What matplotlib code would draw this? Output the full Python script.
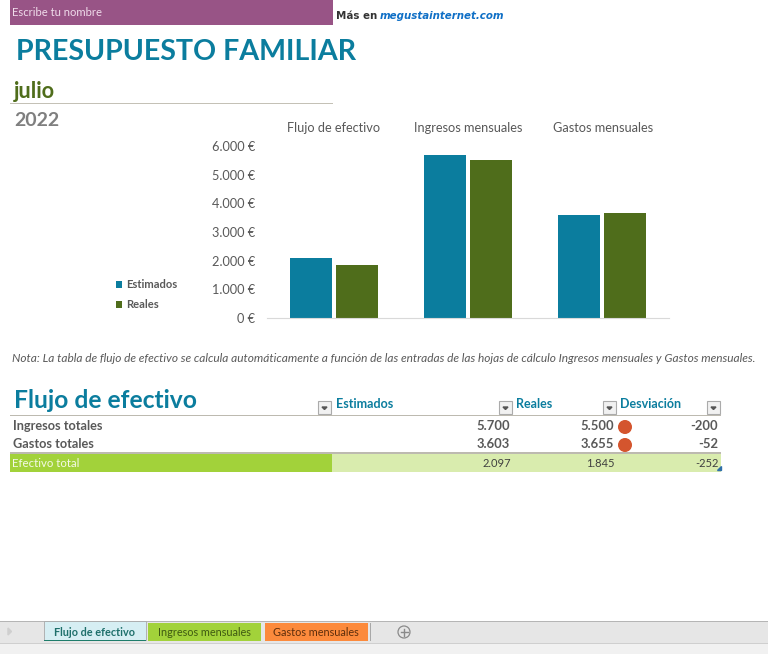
import numpy as np
import matplotlib
matplotlib.use("Agg")
import matplotlib.pyplot as plt
from matplotlib.patches import Rectangle, Circle

categories = ["Flujo de efectivo", "Ingresos mensuales", "Gastos mensuales"]
estimados = [2097, 5700, 3603]
reales = [1845, 5500, 3655]
y_ticks = [0, 1000, 2000, 3000, 4000, 5000, 6000]
y_labels = ["0 €", "1.000 €", "2.000 €", "3.000 €", "4.000 €", "5.000 €", "6.000 €"]
table_rows = ["Ingresos totales", "Gastos totales"]
table_est = ["5.700", "3.603"]
table_real = ["5.500", "3.655"]
table_desv = ["-200", "-52"]
total_row = ["Efectivo total", "2.097", "1.845", "-252"]
table_headers = ["Estimados", "Reales", "Desviación"]
sheet_tabs = ["Flujo de efectivo", "Ingresos mensuales", "Gastos mensuales"]

TEAL = "#0B7D9E"
GREEN = "#4F6D1B"
GREY = "#595959"
W, H = 768, 654

plt.rcParams["font.family"] = ["Lato", "DejaVu Sans"]
fig = plt.figure(figsize=(W / 100, H / 100), dpi=100)

# background axes in pixel coordinates for the sheet stuff
bg = fig.add_axes([0, 0, 1, 1])
bg.set_xlim(0, W)
bg.set_ylim(H, 0)
bg.axis("off")


def box(x0, y0, x1, y1, color, z=1):
    bg.add_patch(Rectangle((x0, y0), x1 - x0, y1 - y0, color=color, lw=0, zorder=z))


def txt(x, y, s, size, color, weight="normal", ha="left", **kw):
    bg.text(x, y, s, fontsize=size, color=color, fontweight=weight, ha=ha, va="center", **kw)


def filter_btn(x, y):
    bg.add_patch(Rectangle((x, y), 13, 13, fc="#F1F1F1", ec="#ABABAB", lw=0.8, zorder=3))
    bg.fill([x + 4, x + 9, x + 6.5], [y + 6, y + 6, y + 8.5], color="#555555", zorder=4)


# header
box(10, 0, 333, 25, "#985486")
txt(12, 12.5, "Escribe tu nombre", 8.1, "#F0DCEB")
txt(336, 16, "Más en", 7.4, "#333333", "bold", family="DejaVu Sans")
txt(380, 16, "megustainternet.com", 7.4, "#0F6FC6", "bold", style="italic", family="DejaVu Sans")
txt(16, 52, "PRESUPUESTO FAMILIAR", 20.6, TEAL, "bold")
txt(14, 91, "julio", 15.6, GREEN, "bold")
box(10, 102.5, 333, 104, "#C4C1B6")
txt(14, 120, "2022", 14, "#7F7F7F", "bold")

# chart
ax = fig.add_axes([266.5 / W, 1 - 318 / H, 403 / W, 172 / H])
x = np.arange(len(categories))
ax.bar(x - 0.171, estimados, 0.312, color=TEAL)
ax.bar(x + 0.171, reales, 0.312, color=GREEN)
ax.set_xlim(-0.5, 2.5)
ax.set_ylim(0, 6000)
ax.set_yticks(y_ticks, y_labels, fontsize=9.2, color=GREY)
ax.set_xticks([])
ax.tick_params(axis="y", length=0, pad=8)
ax.patch.set_alpha(0)
for s in ["top", "right", "left"]:
    ax.spines[s].set_visible(False)
ax.spines["bottom"].set_color("#D9D9D9")
for xc, c in zip([334, 468, 603], categories):
    txt(xc, 128.5, c, 9.2, GREY, ha="center")

# legend of the chart
box(116, 281, 122, 288, TEAL)
txt(126, 285, "Estimados", 8, GREY, "bold")
box(116, 301, 122, 308, GREEN)
txt(126, 305, "Reales", 8, GREY, "bold")

txt(12, 359, "Nota: La tabla de flujo de efectivo se calcula automáticamente a función de las entradas de las hojas de cálculo Ingresos mensuales y Gastos mensuales.",
    8.54, GREY, style="italic")

# table
txt(14, 401, "Flujo de efectivo", 17.7, TEAL, "bold")
box(10, 414.5, 721, 416, "#BDBAB0")
for xh, h in zip([336, 516, 620], table_headers):
    txt(xh, 404, h, 9, TEAL, "bold")
for xb in [318, 499, 603, 707]:
    filter_btn(xb, 401)
for i, yr in enumerate([426, 444]):
    txt(13, yr, table_rows[i], 9.2, GREY, "bold")
    txt(510, yr, table_est[i], 9.4, GREY, "bold", ha="right")
    txt(614, yr, table_real[i], 9.4, GREY, "bold", ha="right")
    txt(718, yr, table_desv[i], 9.4, GREY, "bold", ha="right")
    bg.add_patch(Circle((625, yr + 1), 6.3, color="#D4552E", zorder=3))
box(10, 452, 721, 453.5, "#BDBAB0", 3)
box(10, 453.5, 332, 472, "#A2D23A")
box(332, 453.5, 721, 472, "#D9ECAE")
txt(12, 463.5, total_row[0], 8.2, "#F4F9E6")
txt(511, 463.5, total_row[1], 8, "#3F3F3F", ha="right")
txt(615, 463.5, total_row[2], 8, "#3F3F3F", ha="right")
txt(719, 463.5, total_row[3], 8, "#3F3F3F", ha="right")
bg.fill([721, 721, 717], [466, 470, 470], color="#2F6FA8", zorder=4)

# sheet tabs at the bottom
box(0, 621, W, 643, "#E6E6E6")
box(0, 621, W, 622, "#B5B5B5", 2)
box(0, 643, W, 654, "#F1F1F1")
box(0, 642.5, W, 643.5, "#CFCFCF", 2)
bg.fill([8, 8, 11.5], [628, 635, 631.5], color="#CFCFCF", zorder=3)
bg.add_patch(Rectangle((44, 621), 102, 19, fc="#D6EEF3", ec="#A8A8A8", lw=0.6, zorder=3))
box(44, 639.5, 146, 641, "#1E7D6B", 4)
box(148, 623, 261, 641, "#A2D23A", 3)
box(265, 623, 368, 641, "#FC8A3C", 3)
box(370, 623, 371, 641, "#A8A8A8", 3)
for xc, c, s, w in zip([95, 204, 316], ["#1E6F6B", "#3F5A12", "#5E2E0C"], sheet_tabs, ["bold", "normal", "normal"]):
    bg.text(xc, 632, s, fontsize=7.8, color=c, fontweight=w, ha="center", va="center", zorder=5)
bg.add_patch(Circle((404, 632), 6, fc="none", ec="#8A8A8A", lw=0.9, zorder=4))
bg.plot([400.5, 407.5], [632, 632], color="#8A8A8A", lw=1, zorder=4)
bg.plot([404, 404], [628.5, 635.5], color="#8A8A8A", lw=1, zorder=4)

fig.savefig("out.png", dpi=100)
